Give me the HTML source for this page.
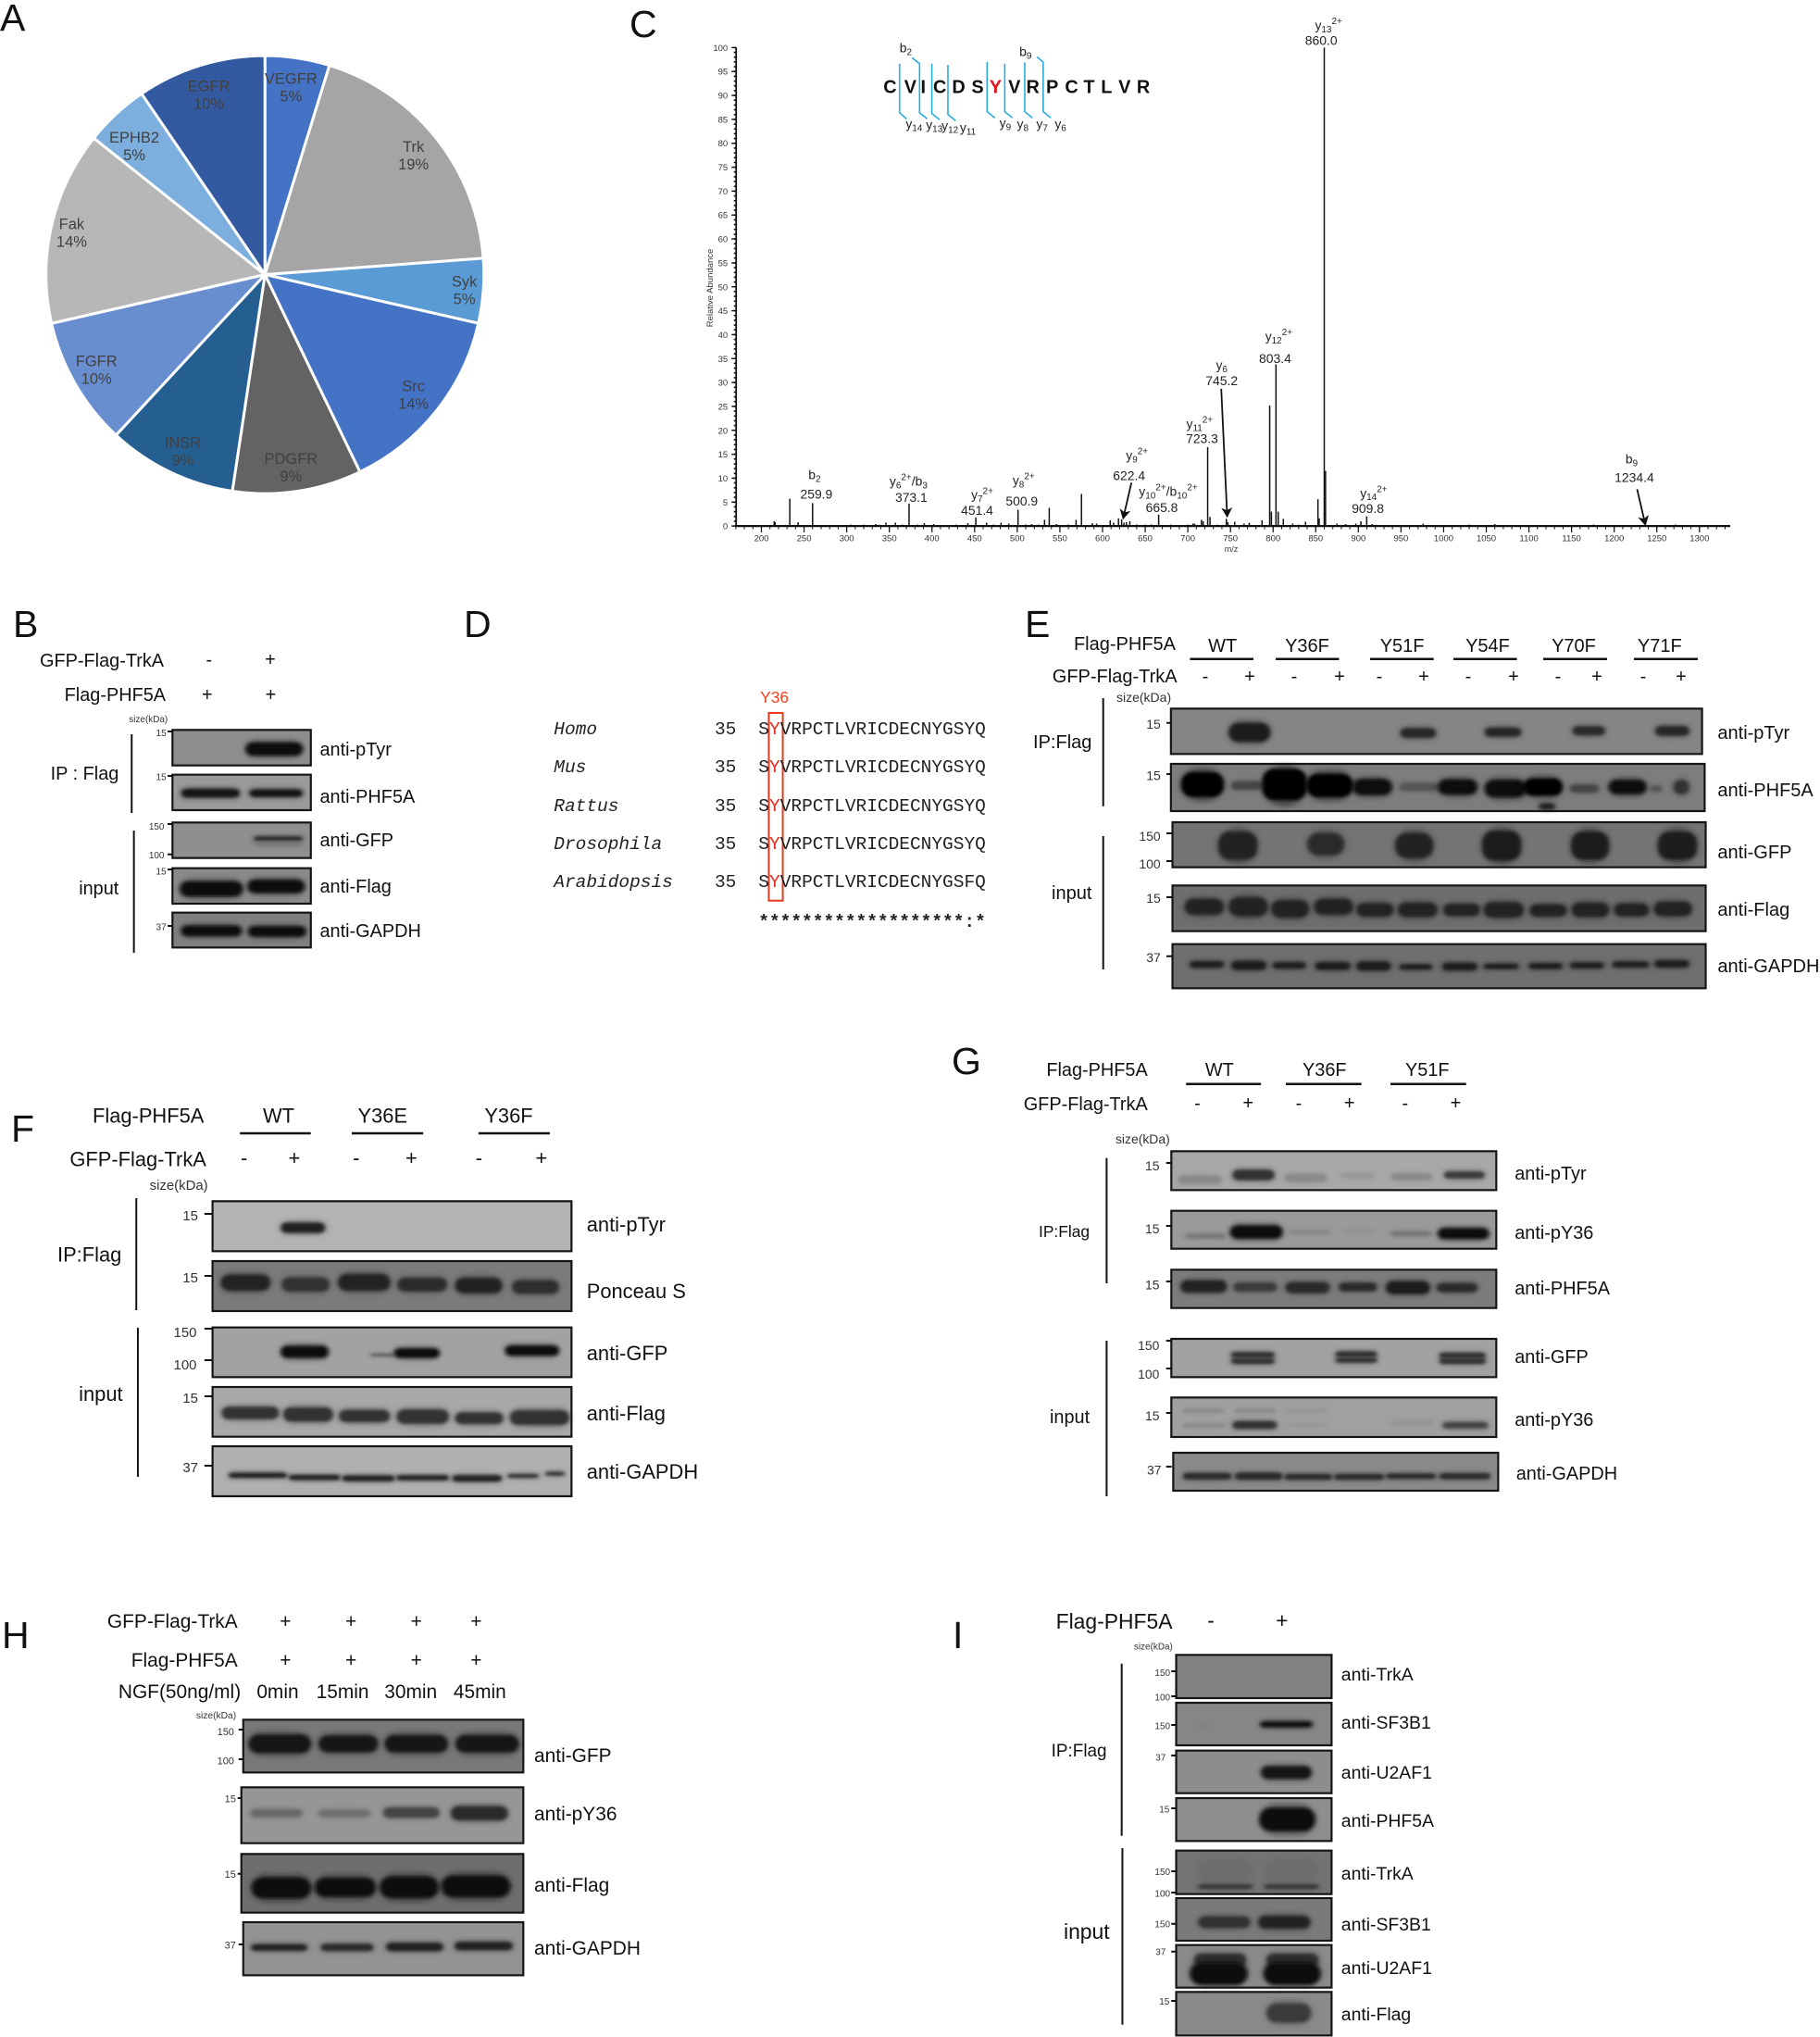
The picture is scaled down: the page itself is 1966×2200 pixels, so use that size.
<!DOCTYPE html>
<html lang="en">
<head>
<meta charset="utf-8">
<title>PHF5A phosphorylation figure</title>
<style>
html,body{margin:0;padding:0;background:#fff}
svg{display:block}
text{font-family:"Liberation Sans",Arial,sans-serif;fill:#111}
.letter{font-size:41px}
.mono{font-family:"Liberation Mono",monospace;font-size:19.6px;fill:#222}
.ann{font-size:14px;fill:#222}
.ann tspan.s{font-size:10px}
.pep{font-size:20px;font-weight:700;text-anchor:middle}
.m{text-anchor:middle}
.e{text-anchor:end}
.f20{font-size:20px}
.f21{font-size:21px}
.f22{font-size:22px}
.f23{font-size:23px}
.f19{font-size:19.5px}
.k10{font-size:10px;fill:#333}
.k11{font-size:11px;fill:#333}
.k14{font-size:14px;fill:#333}
.k15{font-size:15px;fill:#333}
.ln{stroke:#111;stroke-width:2;fill:none}
.ul{stroke:#111;stroke-width:2.5;fill:none}
</style>
</head>
<body>
<svg id="fig" xmlns="http://www.w3.org/2000/svg" width="1966" height="2200" viewBox="0 0 1966 2200">
<defs>
<filter id="soft" x="-30%" y="-200%" width="160%" height="500%"><feGaussianBlur stdDeviation="2.2 1.5"/></filter>
<filter id="halo" x="-40%" y="-300%" width="180%" height="700%"><feGaussianBlur stdDeviation="4 3"/></filter>
<marker id="ah" markerWidth="12" markerHeight="14" refX="10" refY="6" orient="auto" markerUnits="userSpaceOnUse"><path d="M0 0L11 6L0 12L3 6Z" fill="#111"/></marker>
</defs>

<!-- panel letters -->
<text class="letter" x="0" y="33">A</text>
<text class="letter" x="680" y="40">C</text>
<text class="letter" x="14" y="688">B</text>
<text class="letter" x="501" y="688">D</text>
<text class="letter" x="1107" y="688">E</text>
<text class="letter" x="12" y="1233">F</text>
<text class="letter" x="1028" y="1160">G</text>
<text class="letter" x="2" y="1780">H</text>
<text class="letter" x="1029" y="1780">I</text>

<g id="pie"></g>

<!-- spectrum -->
<g id="spectrum"></g>
<g transform="translate(660 0) scale(.99502 .99494) translate(-660 0)">
<text class="ann m" x="1439" y="32">y<tspan class="s" dy="3">13</tspan><tspan class="s" dy="-9">2+</tspan></text>
<text class="ann m" x="1431" y="49">860.0</text>
<text class="ann m" x="881" y="520">b<tspan class="s" dy="3">2</tspan></text>
<text class="ann m" x="883" y="541">259.9</text>
<text class="ann m" x="983" y="527">y<tspan class="s" dy="3">6</tspan><tspan class="s" dy="-9">2+</tspan><tspan dy="6">/b</tspan><tspan class="s" dy="3">3</tspan></text>
<text class="ann m" x="986" y="545">373.1</text>
<text class="ann m" x="1063" y="542">y<tspan class="s" dy="3">7</tspan><tspan class="s" dy="-9">2+</tspan></text>
<text class="ann m" x="1057.5" y="559">451.4</text>
<text class="ann m" x="1108" y="526">y<tspan class="s" dy="3">8</tspan><tspan class="s" dy="-9">2+</tspan></text>
<text class="ann m" x="1106" y="549">500.9</text>
<text class="ann m" x="1231" y="499">y<tspan class="s" dy="3">9</tspan><tspan class="s" dy="-9">2+</tspan></text>
<text class="ann m" x="1222.5" y="521">622.4</text>
<text class="ann m" x="1265" y="538">y<tspan class="s" dy="3">10</tspan><tspan class="s" dy="-9">2+</tspan><tspan dy="6">/b</tspan><tspan class="s" dy="3">10</tspan><tspan class="s" dy="-9">2+</tspan></text>
<text class="ann m" x="1258" y="556">665.8</text>
<text class="ann m" x="1299" y="465">y<tspan class="s" dy="3">11</tspan><tspan class="s" dy="-9">2+</tspan></text>
<text class="ann m" x="1301.7" y="481">723.3</text>
<text class="ann m" x="1323" y="401">y<tspan class="s" dy="3">6</tspan></text>
<text class="ann m" x="1323" y="418">745.2</text>
<text class="ann m" x="1385" y="370">y<tspan class="s" dy="3">12</tspan><tspan class="s" dy="-9">2+</tspan></text>
<text class="ann m" x="1381" y="394">803.4</text>
<text class="ann m" x="1488" y="540">y<tspan class="s" dy="3">14</tspan><tspan class="s" dy="-9">2+</tspan></text>
<text class="ann m" x="1481.7" y="557">909.8</text>
<text class="ann m" x="1768" y="503">b<tspan class="s" dy="3">9</tspan></text>
<text class="ann m" x="1771" y="523">1234.4</text>
<line x1="1225" y1="524" x2="1216" y2="563" stroke="#111" stroke-width="1.8" marker-end="url(#ah)"/>
<line x1="1322.5" y1="422" x2="1329" y2="561" stroke="#111" stroke-width="1.8" marker-end="url(#ah)"/>
<line x1="1774" y1="531" x2="1783" y2="570" stroke="#111" stroke-width="1.8" marker-end="url(#ah)"/>
<path d="M973.3 69.2V122.4L980.8 129M986.7 62.6L995 69.2V122.4L1003.3 129M1008.3 69.2V123.2L1016.7 129.8M1025.8 70.4V124.4L1034.2 131M1068.3 67.3V121.2L1076.7 127.9M1087.5 69.2V121.2L1095.8 127.9M1109.2 67.7V121.2L1117.5 127.9M1122.5 61.8L1129.2 67.3V121.2L1137.5 127.9" stroke="#29abe2" stroke-width="1.6" fill="none"/>
<text class="pep" x="963" y="101">C</text>
<text class="pep" x="985" y="101">V</text>
<text class="pep" x="999" y="101">I</text>
<text class="pep" x="1017" y="101">C</text>
<text class="pep" x="1037.5" y="101">D</text>
<text class="pep" x="1058" y="101">S</text>
<text class="pep" x="1077.5" y="101" style="fill:#e0141c">Y</text>
<text class="pep" x="1098" y="101">V</text>
<text class="pep" x="1118" y="101">R</text>
<text class="pep" x="1139" y="101">P</text>
<text class="pep" x="1160" y="101">C</text>
<text class="pep" x="1179" y="101">T</text>
<text class="pep" x="1198" y="101">L</text>
<text class="pep" x="1217.5" y="101">V</text>
<text class="pep" x="1238" y="101">R</text>
<text class="ann m" x="980" y="57">b<tspan class="s" dy="3">2</tspan></text>
<text class="ann m" x="1110" y="61">b<tspan class="s" dy="3">9</tspan></text>
<text class="ann m" x="989" y="139">y<tspan class="s" dy="3">14</tspan></text>
<text class="ann m" x="1011" y="140">y<tspan class="s" dy="3">13</tspan></text>
<text class="ann m" x="1028" y="141">y<tspan class="s" dy="3">12</tspan></text>
<text class="ann m" x="1047.5" y="143">y<tspan class="s" dy="3">11</tspan></text>
<text class="ann m" x="1088" y="138">y<tspan class="s" dy="3">9</tspan></text>
<text class="ann m" x="1107" y="139">y<tspan class="s" dy="3">8</tspan></text>
<text class="ann m" x="1128" y="139">y<tspan class="s" dy="3">7</tspan></text>
<text class="ann m" x="1148" y="139">y<tspan class="s" dy="3">6</tspan></text>
</g>

<!-- blots drawn by script -->
<g id="blots"></g>

<!-- panel B -->
<g transform="scale(.99479 1)">
<text class="f20 e" x="178" y="720">GFP-Flag-TrkA</text>
<text class="f20 e" x="180" y="757">Flag-PHF5A</text>
<text class="f20 m" x="227" y="719">-</text>
<text class="f20 m" x="293.5" y="719">+</text>
<text class="f20 m" x="225" y="757">+</text>
<text class="f20 m" x="294" y="757">+</text>
<text class="k10" x="140" y="780">size(kDa)</text>
<path class="ln" d="M182 790H187M182 838H187M182 890H187M182 922.7H187M182 939H187M182 1000H187"/>
<text class="k10 m" x="175" y="795">15</text>
<text class="k10 m" x="175" y="842.5">15</text>
<text class="k10 m" x="170" y="896">150</text>
<text class="k10 m" x="170" y="927">100</text>
<text class="k10 m" x="175" y="944.5">15</text>
<text class="k10 m" x="175" y="1004.5">37</text>
<text class="f20 e" x="129" y="842">IP : Flag</text>
<text class="f20 e" x="129" y="966">input</text>
<path class="ln" d="M143 793V878M145.4 897V1029"/>
<text class="f20" x="347.3" y="816">anti-pTyr</text>
<text class="f20" x="347.3" y="867">anti-PHF5A</text>
<text class="f20" x="347.3" y="914">anti-GFP</text>
<text class="f20" x="347.3" y="964">anti-Flag</text>
<text class="f20" x="347.3" y="1012">anti-GAPDH</text>
</g>

<!-- panel D -->
<g transform="translate(-1 0) scale(.99479 1)">
<text x="842" y="759" class="m" style="font-size:17.5px;fill:#f0401f">Y36</text>
<rect x="835.8" y="770" width="15.2" height="202.7" fill="none" stroke="#e8391d" stroke-width="2"/>
<text class="mono" x="602.4" y="793" font-style="italic">Homo</text>
<text class="mono" x="602.4" y="834" font-style="italic">Mus</text>
<text class="mono" x="602.4" y="876" font-style="italic">Rattus</text>
<text class="mono" x="602.4" y="917" font-style="italic">Drosophila</text>
<text class="mono" x="602.4" y="958" font-style="italic">Arabidopsis</text>
<text class="mono" x="777" y="793">35</text>
<text class="mono" x="777" y="834">35</text>
<text class="mono" x="777" y="876">35</text>
<text class="mono" x="777" y="917">35</text>
<text class="mono" x="777" y="958">35</text>
<text class="mono" x="824.6" y="793">S<tspan style="fill:#e8291d">Y</tspan>VRPCTLVRICDECNYGSYQ</text>
<text class="mono" x="824.6" y="834">S<tspan style="fill:#e8291d">Y</tspan>VRPCTLVRICDECNYGSYQ</text>
<text class="mono" x="824.6" y="876">S<tspan style="fill:#e8291d">Y</tspan>VRPCTLVRICDECNYGSYQ</text>
<text class="mono" x="824.6" y="917">S<tspan style="fill:#e8291d">Y</tspan>VRPCTLVRICDECNYGSYQ</text>
<text class="mono" x="824.6" y="958">S<tspan style="fill:#e8291d">Y</tspan>VRPCTLVRICDECNYGSFQ</text>
<text class="mono" x="824.6" y="1001" style="font-weight:700">*******************:*</text>
</g>

<!-- panel E -->
<g>
<text class="f20 e" x="1270" y="702">Flag-PHF5A</text>
<text class="f20 m" x="1320.7" y="704">WT</text>
<text class="f20 m" x="1412" y="704">Y36F</text>
<text class="f20 m" x="1514.6" y="704">Y51F</text>
<text class="f20 m" x="1607" y="704">Y54F</text>
<text class="f20 m" x="1700" y="704">Y70F</text>
<text class="f20 m" x="1792.8" y="704">Y71F</text>
<path class="ul" d="M1285.5 711.7H1354M1378 711.7H1446.4M1480 711.7H1548.7M1570 711.7H1638.6M1667 711.7H1736M1765 711.7H1834"/>
<text class="f20 e" x="1271.6" y="737">GFP-Flag-TrkA</text>
<text class="f20 m" x="1302" y="737">-</text>
<text class="f20 m" x="1350" y="737">+</text>
<text class="f20 m" x="1398" y="737">-</text>
<text class="f20 m" x="1447" y="737">+</text>
<text class="f20 m" x="1490" y="737">-</text>
<text class="f20 m" x="1538" y="737">+</text>
<text class="f20 m" x="1586" y="737">-</text>
<text class="f20 m" x="1635" y="737">+</text>
<text class="f20 m" x="1683" y="737">-</text>
<text class="f20 m" x="1725" y="737">+</text>
<text class="f20 m" x="1775" y="737">-</text>
<text class="f20 m" x="1816" y="737">+</text>
<text class="k14" x="1206" y="758">size(kDa)</text>
<path class="ln" d="M1260 780.7H1266M1260 836H1266M1260 900H1266M1260 930H1266M1260 969H1266M1260 1032.7H1266"/>
<text class="k14 m" x="1246" y="787">15</text>
<text class="k14 m" x="1246" y="842.7">15</text>
<text class="k14 m" x="1242" y="908">150</text>
<text class="k14 m" x="1242" y="938">100</text>
<text class="k14 m" x="1246" y="975">15</text>
<text class="k14 m" x="1246" y="1039">37</text>
<text class="f20 e" x="1179.4" y="808">IP:Flag</text>
<text class="f20 e" x="1179.4" y="971">input</text>
<path class="ln" d="M1191.7 754V870.7M1191.7 903V1047"/>
<text class="f20" x="1855.4" y="798">anti-pTyr</text>
<text class="f20" x="1855.4" y="860">anti-PHF5A</text>
<text class="f20" x="1855.4" y="927">anti-GFP</text>
<text class="f20" x="1855.4" y="989">anti-Flag</text>
<text class="f20" x="1855.4" y="1050">anti-GAPDH</text>
</g>

<!-- panel F -->
<g transform="scale(.9949 1)">
<text class="f22 e" x="221.5" y="1212.5">Flag-PHF5A</text>
<text class="f22 m" x="302.5" y="1212.5">WT</text>
<text class="f22 m" x="415.4" y="1212.5">Y36E</text>
<text class="f22 m" x="552.3" y="1212.5">Y36F</text>
<path class="ul" d="M260.5 1224H337.4M382 1224H459.5M519.5 1224H597"/>
<text class="f22 e" x="224" y="1259.5">GFP-Flag-TrkA</text>
<text class="f22 m" x="265" y="1258">-</text>
<text class="f22 m" x="319.5" y="1258">+</text>
<text class="f22 m" x="386.7" y="1258">-</text>
<text class="f22 m" x="446.7" y="1258">+</text>
<text class="f22 m" x="520" y="1258">-</text>
<text class="f22 m" x="587.7" y="1258">+</text>
<text class="k15" x="162.5" y="1285">size(kDa)</text>
<path class="ln" d="M222 1311H230M222 1378H230M222 1435H230M222 1469H230M222 1508H230M222 1583H230"/>
<text class="k15 m" x="206.7" y="1318">15</text>
<text class="k15 m" x="206.7" y="1385">15</text>
<text class="k15 m" x="201" y="1444">150</text>
<text class="k15 m" x="201" y="1479">100</text>
<text class="k15 m" x="206.7" y="1515">15</text>
<text class="k15 m" x="206.7" y="1590">37</text>
<text class="f22 e" x="132" y="1362.5">IP:Flag</text>
<text class="f22 e" x="133.3" y="1513">input</text>
<path class="ln" d="M148 1294V1415M149.7 1434V1595"/>
<text class="f22" x="637" y="1330">anti-pTyr</text>
<text class="f22" x="637" y="1402">Ponceau S</text>
<text class="f22" x="637" y="1469">anti-GFP</text>
<text class="f22" x="637" y="1534">anti-Flag</text>
<text class="f22" x="637" y="1597">anti-GAPDH</text>
</g>

<!-- panel G -->
<g transform="translate(1000 0) scale(.9949 1) translate(-1000 0)">
<text class="f20 e" x="1241" y="1162">Flag-PHF5A</text>
<text class="f20 m" x="1319" y="1162">WT</text>
<text class="f20 m" x="1433" y="1162">Y36F</text>
<text class="f20 m" x="1544.6" y="1162">Y51F</text>
<path class="ul" d="M1282.6 1170.7H1364M1391 1170.7H1473M1504.6 1170.7H1586.7"/>
<text class="f20 e" x="1241" y="1199">GFP-Flag-TrkA</text>
<text class="f20 m" x="1295" y="1198">-</text>
<text class="f20 m" x="1350" y="1198">+</text>
<text class="f20 m" x="1405" y="1198">-</text>
<text class="f20 m" x="1460" y="1198">+</text>
<text class="f20 m" x="1520.5" y="1198">-</text>
<text class="f20 m" x="1575.4" y="1198">+</text>
<text class="k14" x="1206" y="1235">size(kDa)</text>
<path class="ln" d="M1261 1256H1267M1261 1324H1267M1261 1384H1267M1261 1448H1267M1261 1478H1267M1261 1526H1267M1261 1584H1267"/>
<text class="k14 m" x="1246" y="1264">15</text>
<text class="k14 m" x="1246" y="1332">15</text>
<text class="k14 m" x="1246" y="1392.7">15</text>
<text class="k14 m" x="1242" y="1458">150</text>
<text class="k14 m" x="1242" y="1489">100</text>
<text class="k14 m" x="1246" y="1534">15</text>
<text class="k14 m" x="1248" y="1592.7">37</text>
<text class="e" x="1178" y="1336" style="font-size:17.5px">IP:Flag</text>
<text class="f20 e" x="1178" y="1537">input</text>
<path class="ln" d="M1196.4 1250.7V1386M1196.4 1448V1616"/>
<text class="f20" x="1639.5" y="1274">anti-pTyr</text>
<text class="f20" x="1639.5" y="1338">anti-pY36</text>
<text class="f20" x="1639.5" y="1398">anti-PHF5A</text>
<text class="f20" x="1639.5" y="1472">anti-GFP</text>
<text class="f20" x="1639.5" y="1540">anti-pY36</text>
<text class="f20" x="1641" y="1598">anti-GAPDH</text>
</g>

<!-- panel H -->
<g transform="scale(.9949 1)">
<text class="f21 e" x="258" y="1758">GFP-Flag-TrkA</text>
<text class="f21 e" x="258" y="1800">Flag-PHF5A</text>
<text class="f21 e" x="261.5" y="1834">NGF(50ng/ml)</text>
<text class="f21 m" x="310" y="1758">+</text>
<text class="f21 m" x="381" y="1758">+</text>
<text class="f21 m" x="452" y="1758">+</text>
<text class="f21 m" x="517" y="1758">+</text>
<text class="f21 m" x="310" y="1800">+</text>
<text class="f21 m" x="381" y="1800">+</text>
<text class="f21 m" x="452" y="1800">+</text>
<text class="f21 m" x="517" y="1800">+</text>
<text class="f21 m" x="301.5" y="1834">0min</text>
<text class="f21 m" x="372" y="1834">15min</text>
<text class="f21 m" x="446" y="1834">30min</text>
<text class="f21 m" x="521" y="1834">45min</text>
<text class="k10" x="213" y="1856" style="font-size:10.3px">size(kDa)</text>
<path class="ln" d="M259 1868H264M259 1900H264M258 1942H262M258 2023.7H262M259 2100H264"/>
<text class="k11 m" x="245" y="1874">150</text>
<text class="k11 m" x="245" y="1905.7">100</text>
<text class="k11 m" x="250" y="1946.7">15</text>
<text class="k11 m" x="250" y="2028">15</text>
<text class="k11 m" x="250" y="2104.7">37</text>
<text class="f21" x="580" y="1903">anti-GFP</text>
<text class="f21" x="580" y="1966">anti-pY36</text>
<text class="f21" x="580" y="2043">anti-Flag</text>
<text class="f21" x="580" y="2111">anti-GAPDH</text>
</g>

<!-- panel I -->
<g transform="translate(1000 0) scale(.99509 1) translate(-1000 0)">
<text class="f23 e" x="1267.8" y="1759">Flag-PHF5A</text>
<text class="f23 m" x="1309.6" y="1758">-</text>
<text class="f23 m" x="1386.7" y="1758">+</text>
<text class="k10" x="1226" y="1781.5">size(kDa)</text>
<path class="ln" d="M1266.5 1805H1272M1266.5 1832H1272M1266.5 1863H1272M1266.5 1896H1272M1266.5 1953H1272M1266.5 2021H1272M1266.5 2044H1272M1266.5 2077.7H1272M1266.5 2107.7H1272M1266.5 2161H1272"/>
<text class="k10 m" x="1257" y="1810">150</text>
<text class="k10 m" x="1257" y="1836.5">100</text>
<text class="k10 m" x="1257" y="1867.5">150</text>
<text class="k10 m" x="1255" y="1901.5">37</text>
<text class="k10 m" x="1259" y="1957.5">15</text>
<text class="k10 m" x="1257" y="2025">150</text>
<text class="k10 m" x="1257" y="2048.5">100</text>
<text class="k10 m" x="1257" y="2081.5">150</text>
<text class="k10 m" x="1255" y="2111.5">37</text>
<text class="k10 m" x="1259" y="2165">15</text>
<text class="e" x="1196.5" y="1897" style="font-size:19px">IP:Flag</text>
<text class="f23 e" x="1199.6" y="2094">input</text>
<path class="ln" d="M1212.7 1796.7V1982.7M1213.5 1996V2186.7"/>
<text class="f19" x="1451" y="1815">anti-TrkA</text>
<text class="f19" x="1451" y="1867">anti-SF3B1</text>
<text class="f19" x="1451" y="1921">anti-U2AF1</text>
<text class="f19" x="1451" y="1973">anti-PHF5A</text>
<text class="f19" x="1451" y="2030">anti-TrkA</text>
<text class="f19" x="1451" y="2085">anti-SF3B1</text>
<text class="f19" x="1451" y="2132">anti-U2AF1</text>
<text class="f19" x="1451" y="2182">anti-Flag</text>
</g>
</svg>

<script>
// ---------- Pie chart data ----------
const kinaseNames = ['VEGFR','Trk','Syk','Src','PDGFR','INSR','FGFR','Fak','EPHB2','EGFR'];
const kinaseCounts = [1,4,1,3,2,2,2,3,1,2];
const kinasePercentLabels = ['5%','19%','5%','14%','9%','9%','10%','14%','5%','10%'];
const kinaseColors = ['#4472c4','#a5a5a5','#5b9bd5','#4472c4','#636363','#255e91','#698ed0','#b7b7b7','#7cafdd','#335aa1'];

// ---------- Spectrum data ----------
const mzValues = [215,216,233.3,243,252,260,275,290,305,320,334,346,357,365,373.1,383,391,402,415,428,442,451.4,464,472,481,490,500.9,510,517,525,532,537.5,546,560,569,575.3,588,593,609,613,618.7,622.4,625,628,632,640,650,657,665.8,680,690,700,706,708,716,718,723.3,726,735,745.2,747,755,766,772,787,796,798,803.4,806,812,823,830,838,852.6,854,860,861.5,875,885,897,903,909.8,916,925,940,976,995,1012,1030,1060,1085,1110,1140,1176,1215,1272,1295];
const intensityValues = [1,0.8,5.7,0.8,0.2,4.8,0.2,0.2,0.3,0.3,0.4,0.7,0.7,0.3,4.7,0.3,0.6,0.4,0.2,0.3,0.6,1.8,0.7,0.3,0.7,0.5,3.4,0.3,0.4,0.3,1.3,3.8,0.4,0.3,1.3,6.7,0.6,0.5,1.2,0.7,1.6,1.4,0.7,0.8,1,0.3,0.3,0.3,2.4,0.3,0.2,0.3,0.5,0.5,1.3,1,16.5,1.9,0.3,1.5,0.8,0.9,0.5,0.7,1.2,25.2,3,33.8,3,1.5,0.5,0.3,0.9,5.6,1.6,100,11.5,0.5,0.4,0.5,1,2,0.4,0.2,0.2,0.5,0.2,0.2,0.3,0.4,0.2,0.2,0.2,0.3,0.2,0.3,0.2];
const yTickLabels = ['0','5','10','15','20','25','30','35','40','45','50','55','60','65','70','75','80','85','90','95','100'];
const xTickLabels = ['200','250','300','350','400','450','500','550','600','650','700','750','800','850','900','950','1000','1050','1100','1150','1200','1250','1300'];

// ---------- Blot scales: reading frames per panel ----------
const frames = {
  B:{ox:0,oy:640,sx:1.4385,sy:3},
  E:{ox:1090,oy:660,sx:1.79,sy:3},
  F:{ox:0,oy:1150,sx:1.96,sy:3},
  G:{ox:1000,oy:1120,sx:1.96,sy:3},
  H:{ox:0,oy:1720,sx:1.96,sy:3},
  I:{ox:1000,oy:1720,sx:2.24,sy:3}
};
// blot: panel, name, [x0,x1,y0,y1], background, bands [x0,x1,yMid,height,colour]
const blotList = [
 ['B','ptyr',[268,483,445,560],'#8e8e8e',[[382,470,507,42,'#0a0a0a']]],
 ['B','phf5a',[268,483,590,705],'#9a9a9a',[[282,372,650,27,'#151515'],[388,470,650,24,'#181818']]],
 ['B','gfp',[268,483,745,860],'#8f8f8f',[[395,470,797,12,'#222'],[395,470,815,6,'#6a6a6a']]],
 ['B','flag',[268,483,893,1008],'#8a8a8a',[[280,377,960,48,'#111'],[385,473,952,42,'#111']]],
 ['B','gapdh',[268,483,1037,1150],'#808080',[[282,375,1096,33,'#111'],[386,475,1098,33,'#111']]],

 ['E','ptyr',[313,1340,316,463],'#858585',[[425,505,393,60,'#1d1d1d'],[757,825,395,30,'#252525'],[920,990,392,28,'#252525'],[1090,1152,388,28,'#2a2a2a'],[1250,1315,388,30,'#252525']]],
 ['E','phf5a',[313,1345,495,648],'#7d7d7d',[[333,415,562,80,'#050505'],[430,490,565,25,'#444'],[490,575,562,100,'#050505'],[575,665,565,75,'#050505'],[665,740,570,50,'#080808'],[755,830,570,25,'#555'],[830,905,570,48,'#080808'],[920,1000,575,55,'#111'],[995,1070,570,55,'#050505'],[1085,1140,575,25,'#444'],[1160,1232,570,45,'#080808'],[1240,1262,575,20,'#555'],[1285,1315,570,45,'#333'],[1025,1055,633,20,'#222']]],
 ['E','gfp',[316,1347,684,830],'#747474',[[405,480,760,90,'#222'],[577,648,755,70,'#2a2a2a'],[747,820,760,80,'#222'],[915,990,760,95,'#1c1c1c'],[1087,1160,760,90,'#1e1e1e'],[1255,1330,760,90,'#1e1e1e']]],
 ['E','flag',[316,1347,889,1037],'#6e6e6e',[[340,415,958,50,'#222'],[425,500,958,60,'#222'],[507,580,965,55,'#222'],[590,665,958,50,'#222'],[672,743,968,42,'#222'],[752,828,968,45,'#222'],[840,910,968,38,'#222'],[918,995,968,48,'#222'],[1007,1078,970,38,'#222'],[1088,1160,968,45,'#222'],[1170,1237,968,40,'#222'],[1247,1320,965,45,'#222']]],
 ['E','gapdh',[316,1347,1079,1222],'#6f6f6f',[[350,415,1145,20,'#1a1a1a'],[430,497,1148,28,'#1a1a1a'],[510,573,1148,20,'#1a1a1a'],[592,660,1150,24,'#1a1a1a'],[672,738,1150,28,'#1a1a1a'],[755,818,1153,16,'#1a1a1a'],[838,905,1152,24,'#1a1a1a'],[918,985,1151,16,'#1a1a1a'],[1005,1070,1150,18,'#1a1a1a'],[1085,1150,1148,18,'#1a1a1a'],[1167,1237,1145,18,'#1a1a1a'],[1248,1315,1143,22,'#1a1a1a']]],

 ['F','ptyr',[450,1210,442,604],'#b3b3b3',[[595,688,528,32,'#222']]],
 ['F','ponceau',[450,1210,636,798],'#7b7b7b',[[468,572,706,50,'#222'],[597,697,712,44,'#333'],[716,826,705,52,'#222'],[842,946,712,42,'#2a2a2a'],[964,1063,715,48,'#222'],[1085,1183,720,42,'#2d2d2d']]],
 ['F','gfp',[450,1210,851,1012],'#a2a2a2',[[595,695,930,38,'#0a0a0a'],[835,930,934,30,'#0a0a0a'],[1070,1183,926,32,'#0a0a0a'],[785,835,940,5,'#333']]],
 ['F','flag',[450,1210,1044,1205],'#a8a8a8',[[470,590,1128,38,'#333'],[600,705,1133,44,'#333'],[718,825,1138,38,'#333'],[840,950,1140,44,'#333'],[964,1065,1145,36,'#333'],[1080,1205,1143,46,'#333']]],
 ['F','gapdh',[450,1210,1236,1398],'#b0b0b0',[[485,607,1330,16,'#222'],[612,720,1337,16,'#222'],[725,835,1340,18,'#222'],[840,950,1338,16,'#222'],[958,1062,1340,20,'#222'],[1075,1140,1332,12,'#333'],[1155,1195,1325,12,'#333']]],

 ['G','ptyr',[520,1208,370,496],'#a8a8a8',[[535,625,462,25,'#888'],[650,738,447,32,'#333'],[760,848,457,25,'#8a8a8a'],[880,950,450,18,'#999'],[985,1072,453,22,'#8a8a8a'],[1098,1183,447,22,'#3a3a3a']]],
 ['G','py36',[520,1208,563,686],'#9a9a9a',[[550,635,645,14,'#777'],[645,755,632,42,'#080808'],[770,855,632,14,'#888'],[885,950,630,8,'#8d8d8d'],[985,1070,637,16,'#777'],[1085,1192,637,34,'#080808']]],
 ['G','phf5a',[520,1208,754,878],'#7c7c7c',[[540,637,808,38,'#222'],[652,743,810,28,'#3a3a3a'],[762,855,812,34,'#2a2a2a'],[875,955,810,26,'#2a2a2a'],[975,1067,812,40,'#1a1a1a'],[1082,1168,812,28,'#2a2a2a']]],
 ['G','gfp',[520,1208,978,1102],'#a2a2a2',[[647,738,1030,18,'#333'],[647,738,1050,18,'#333'],[868,955,1028,18,'#333'],[868,955,1047,16,'#333'],[1088,1185,1032,18,'#333'],[1088,1185,1050,18,'#333']]],
 ['G','py36-input',[520,1208,1168,1296],'#a0a0a0',[[545,630,1210,12,'#8a8a8a'],[655,740,1210,12,'#888'],[545,635,1258,12,'#8a8a8a'],[650,743,1257,24,'#333'],[1095,1190,1258,20,'#444'],[760,850,1210,10,'#959595'],[760,850,1258,8,'#959595'],[985,1075,1250,20,'#969696']]],
 ['G','gapdh',[524,1212,1347,1470],'#8a8a8a',[[545,647,1423,20,'#2a2a2a'],[655,755,1423,22,'#2a2a2a'],[760,860,1425,18,'#2a2a2a'],[865,970,1425,18,'#2a2a2a'],[975,1080,1423,16,'#2a2a2a'],[1088,1195,1423,18,'#2a2a2a']]],

 ['H','gfp',[515,1108,412,583],'#787878',[[527,658,490,58,'#151515'],[675,800,490,52,'#151515'],[815,948,490,54,'#151515'],[965,1098,490,54,'#151515']]],
 ['H','py36',[511,1108,631,812],'#969696',[[530,640,715,26,'#6a6a6a'],[675,783,715,24,'#707070'],[812,930,713,32,'#444'],[955,1075,715,44,'#2a2a2a']]],
 ['H','flag',[511,1108,847,1037],'#6e6e6e',[[533,658,957,66,'#111'],[667,795,955,60,'#111'],[805,928,955,68,'#111'],[935,1080,952,68,'#111']]],
 ['H','gapdh',[515,1108,1068,1240],'#939393',[[532,650,1150,20,'#222'],[680,790,1150,22,'#2a2a2a'],[818,938,1148,26,'#222'],[963,1085,1145,26,'#222']]],

 ['I','trka',[606,982,202,342],'#828282',[]],
 ['I','sf3b1',[606,982,357,495],'#868686',[[810,935,427,18,'#0a0a0a'],[665,685,430,5,'#777']]],
 ['I','u2af1',[606,982,512,650],'#8d8d8d',[[812,933,583,40,'#181818']]],
 ['I','phf5a',[606,982,666,805],'#8e8e8e',[[808,942,735,75,'#0e0e0e']]],
 ['I','trka-input',[606,982,836,977],'#737373',[[660,790,900,70,'#6d6d6d'],[820,950,900,70,'#6d6d6d'],[660,790,953,12,'#333'],[820,950,953,12,'#333']]],
 ['I','sf3b1-input',[606,982,990,1128],'#7a7a7a',[[660,785,1068,36,'#333'],[805,930,1068,40,'#222']]],
 ['I','u2af1-input',[606,982,1142,1280],'#8a8a8a',[[650,775,1190,40,'#333'],[825,950,1190,40,'#333'],[640,778,1235,70,'#0e0e0e'],[818,955,1235,70,'#0e0e0e']]],
 ['I','flag',[606,982,1294,1435],'#8a8a8a',[[825,932,1362,60,'#3a3a3a']]]
];

const NS = 'http://www.w3.org/2000/svg';
function mk(tag, attrs, parent){
  const el = document.createElementNS(NS, tag);
  for (const k in attrs) el.setAttribute(k, attrs[k]);
  parent.appendChild(el);
  return el;
}

// ---------- Pie ----------
(function(){
  const g = document.getElementById('pie');
  const cx = 286.2, cy = 296.6, r = 236.5, labelR = 209;
  const nudge = [[-3,4],[-3,1],[7,1],[-3,-1],[-3,1],[2,2],[-1,-2],[-5,1],[1,14],[1,5]];
  const total = kinaseCounts.reduce((a,b)=>a+b,0);
  const pt = (deg, rad) => [cx + rad*Math.sin(deg*Math.PI/180), cy - rad*Math.cos(deg*Math.PI/180)];
  let a0 = 0;
  kinaseCounts.forEach((v,i)=>{
    const a1 = a0 + v/total*360;
    const p0 = pt(a0,r), p1 = pt(a1,r);
    const el = mk('path',{d:`M${cx} ${cy}L${p0[0]} ${p0[1]}A${r} ${r} 0 ${a1-a0>180?1:0} 1 ${p1[0]} ${p1[1]}Z`,fill:kinaseColors[i],stroke:'#fff','stroke-width':3,'stroke-linejoin':'round'},g);
    
    
    a0 = a1;
  });
  a0 = 0;
  kinaseCounts.forEach((v,i)=>{
    const a1 = a0 + v/total*360;
    const p = pt((a0+a1)/2, labelR);
    const lx = p[0] + nudge[i][0], ly = p[1] + nudge[i][1];
    const t1 = mk('text',{x:lx,y:ly-3.5,'text-anchor':'middle',style:'font-size:16.5px;fill:#404040'},g);
    t1.textContent = kinaseNames[i];
    
    
    const t2 = mk('text',{x:lx,y:ly+15.5,'text-anchor':'middle',style:'font-size:16.5px;fill:#404040'},g);
    t2.textContent = kinasePercentLabels[i];
    
    
    a0 = a1;
  });
})();

// ---------- Spectrum ----------
(function(){
  const g = document.getElementById('spectrum');
  const xScale = mz => 822.5 + (mz-200)*0.9212;
  const yScale = v => 568.1 - v*5.167;
  const x0 = 795.2, x1 = 1869;
  const axY = mk('path',{d:`M${x0} ${yScale(100)}V${yScale(0)}`,stroke:'#111','stroke-width':1.8,fill:'none'},g);
  
  
  const axX = mk('path',{d:`M${x0} ${yScale(0)}H${x1}`,stroke:'#111','stroke-width':2.2,fill:'none'},g);
  
  
  let minorY = '';
  for (let v=0;v<=100;v++) minorY += `M${x0-2.5} ${yScale(v)}H${x0}`;
  const my = mk('path',{d:minorY,stroke:'#111','stroke-width':1.6,fill:'none'},g);
  
  
  yTickLabels.forEach(lab=>{
    const y = yScale(+lab);
    const tk = mk('line',{x1:x0-5,x2:x0,y1:y,y2:y,stroke:'#111','stroke-width':1.4},g);
    
    
    const t = mk('text',{x:x0-9,y:y+3.5,'text-anchor':'end',style:'font-size:9.5px;fill:#333'},g);
    t.textContent = lab;
    
    
  });
  let minorX = '';
  for (let m=170;m<=1335;m+=10) minorX += `M${xScale(m)} ${yScale(0)}v3.5`;
  const mx = mk('path',{d:minorX,stroke:'#111','stroke-width':1,fill:'none'},g);
  
  
  xTickLabels.forEach(lab=>{
    const x = xScale(+lab);
    const tk = mk('line',{x1:x,x2:x,y1:yScale(0),y2:yScale(0)+7,stroke:'#111','stroke-width':1.2},g);
    
    
    const t = mk('text',{x:x,y:584.5,'text-anchor':'middle',style:'font-size:9.5px;fill:#333'},g);
    t.textContent = lab;
    
    
  });
  mzValues.forEach((mz,i)=>{
    const x = xScale(mz);
    const pk = mk('line',{x1:x,x2:x,y1:yScale(0),y2:yScale(intensityValues[i]),stroke:'#111','stroke-width':1.5},g);
    
    
  });
  const xt = mk('text',{x:1330,y:596,'text-anchor':'middle',style:'font-size:9px;fill:#333'},g);
  xt.textContent = 'm/z';
  
  
  const yt = mk('text',{x:0,y:0,'text-anchor':'middle',transform:'translate(770 311) rotate(-90)',style:'font-size:9.5px;fill:#333'},g);
  yt.textContent = 'Relative Abundance';
  
  
})();

// ---------- Blots ----------
(function(){
  const g = document.getElementById('blots');
  blotList.forEach(b=>{
    const f = frames[b[0]];
    const X = v => f.ox + v/f.sx, Y = v => f.oy + v/f.sy;
    const box = b[2];
    const grp = mk('g',{},g);
    
    
    const bx = X(box[0]), by = Y(box[2]), bw = X(box[1])-bx, bh = Y(box[3])-by;
    const bg = mk('rect',{x:bx,y:by,width:bw,height:bh,fill:b[3]},grp);
    
    
    b[4].forEach(s=>{
      const h = s[3]/f.sy;
      const hh = h*1.35;
      const hy = Math.max(by+1, Y(s[2])-hh/2);
      const halo = mk('rect',{x:X(s[0]),y:hy,width:X(s[1])-X(s[0]),height:Math.min(hh, by+bh-1-hy),rx:hh/2,fill:s[4],opacity:.45,filter:'url(#halo)'},grp);
      
      
      const band = mk('rect',{x:X(s[0]),y:Y(s[2])-h/2,width:X(s[1])-X(s[0]),height:h,rx:Math.min(h/2,12),fill:s[4],filter:'url(#soft)'},grp);
      
      
    });
    const fr = mk('rect',{x:bx,y:by,width:bw,height:bh,fill:'none',stroke:'#151515','stroke-width':2.2},grp);
    
    
  });
})();
</script>
</body>
</html>
